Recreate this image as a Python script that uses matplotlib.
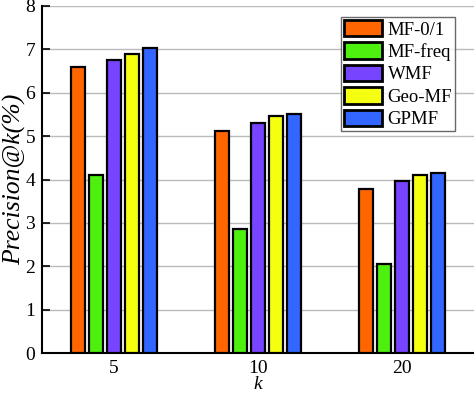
import matplotlib
matplotlib.use("Agg")
import matplotlib.pyplot as plt
import numpy as np

categories = ["5", "10", "20"]
series_names = ["MF-0/1", "MF-freq", "WMF", "Geo-MF", "GPMF"]
mf01 = [6.60, 5.12, 3.77]
mffreq = [4.10, 2.86, 2.06]
wmf = [6.76, 5.30, 3.96]
geomf = [6.89, 5.47, 4.10]
gpmf = [7.03, 5.52, 4.15]
colors = ["#FF6600", "#4DF00F", "#7744FF", "#F5FF10", "#3366FF"]

plt.rcParams['font.family'] = ['Liberation Serif', 'DejaVu Serif']

fig = plt.figure(figsize=(4.74, 3.95), dpi=100)
ax = fig.add_axes([42/474, 42/395, 1 - 42/474, (353-6)/395])

x = np.arange(len(categories))
pitch = 0.125
width = 0.104
values = [mf01, mffreq, wmf, geomf, gpmf]
for i, (name, vals, c) in enumerate(zip(series_names, values, colors)):
    ax.bar(x + (i - 2) * pitch, vals, width=width, color=c, edgecolor="black",
           linewidth=1.6, label=name, zorder=3)

ax.set_xlim(-0.5, 2.5)
ax.set_ylim(0, 8)
ax.set_yticks(range(0, 9))
ax.set_xticks(x)
ax.set_xticklabels(categories)
ax.yaxis.grid(True, color="#BBBBBB", linewidth=1.0, zorder=0)
ax.set_axisbelow(True)
for s in ["top", "right"]:
    ax.spines[s].set_visible(False)
ax.spines["left"].set_linewidth(1.5)
ax.spines["bottom"].set_linewidth(1.5)
ax.tick_params(axis="y", direction="in", length=6, width=1.2, labelsize=14, pad=5)
ax.tick_params(axis="x", length=0, labelsize=14, pad=5)
ax.set_xlabel("k", fontsize=14, style="italic", labelpad=-1)
ax.set_ylabel("Precision@k(%)", fontsize=18.5, style="italic", labelpad=-1)

leg = ax.legend(loc="upper right", bbox_to_anchor=(1 - 19/432, 1 - 11/347), fontsize=13.5,
                frameon=True, fancybox=False, edgecolor="#444444",
                handlelength=2.05, handleheight=0.98, handletextpad=0.3,
                labelspacing=0.2, borderpad=0.15, borderaxespad=0.0)
leg.get_frame().set_linewidth(1.0)
for h in leg.legend_handles:
    h.set_linewidth(2.0)

fig.savefig("out.png", dpi=100)
